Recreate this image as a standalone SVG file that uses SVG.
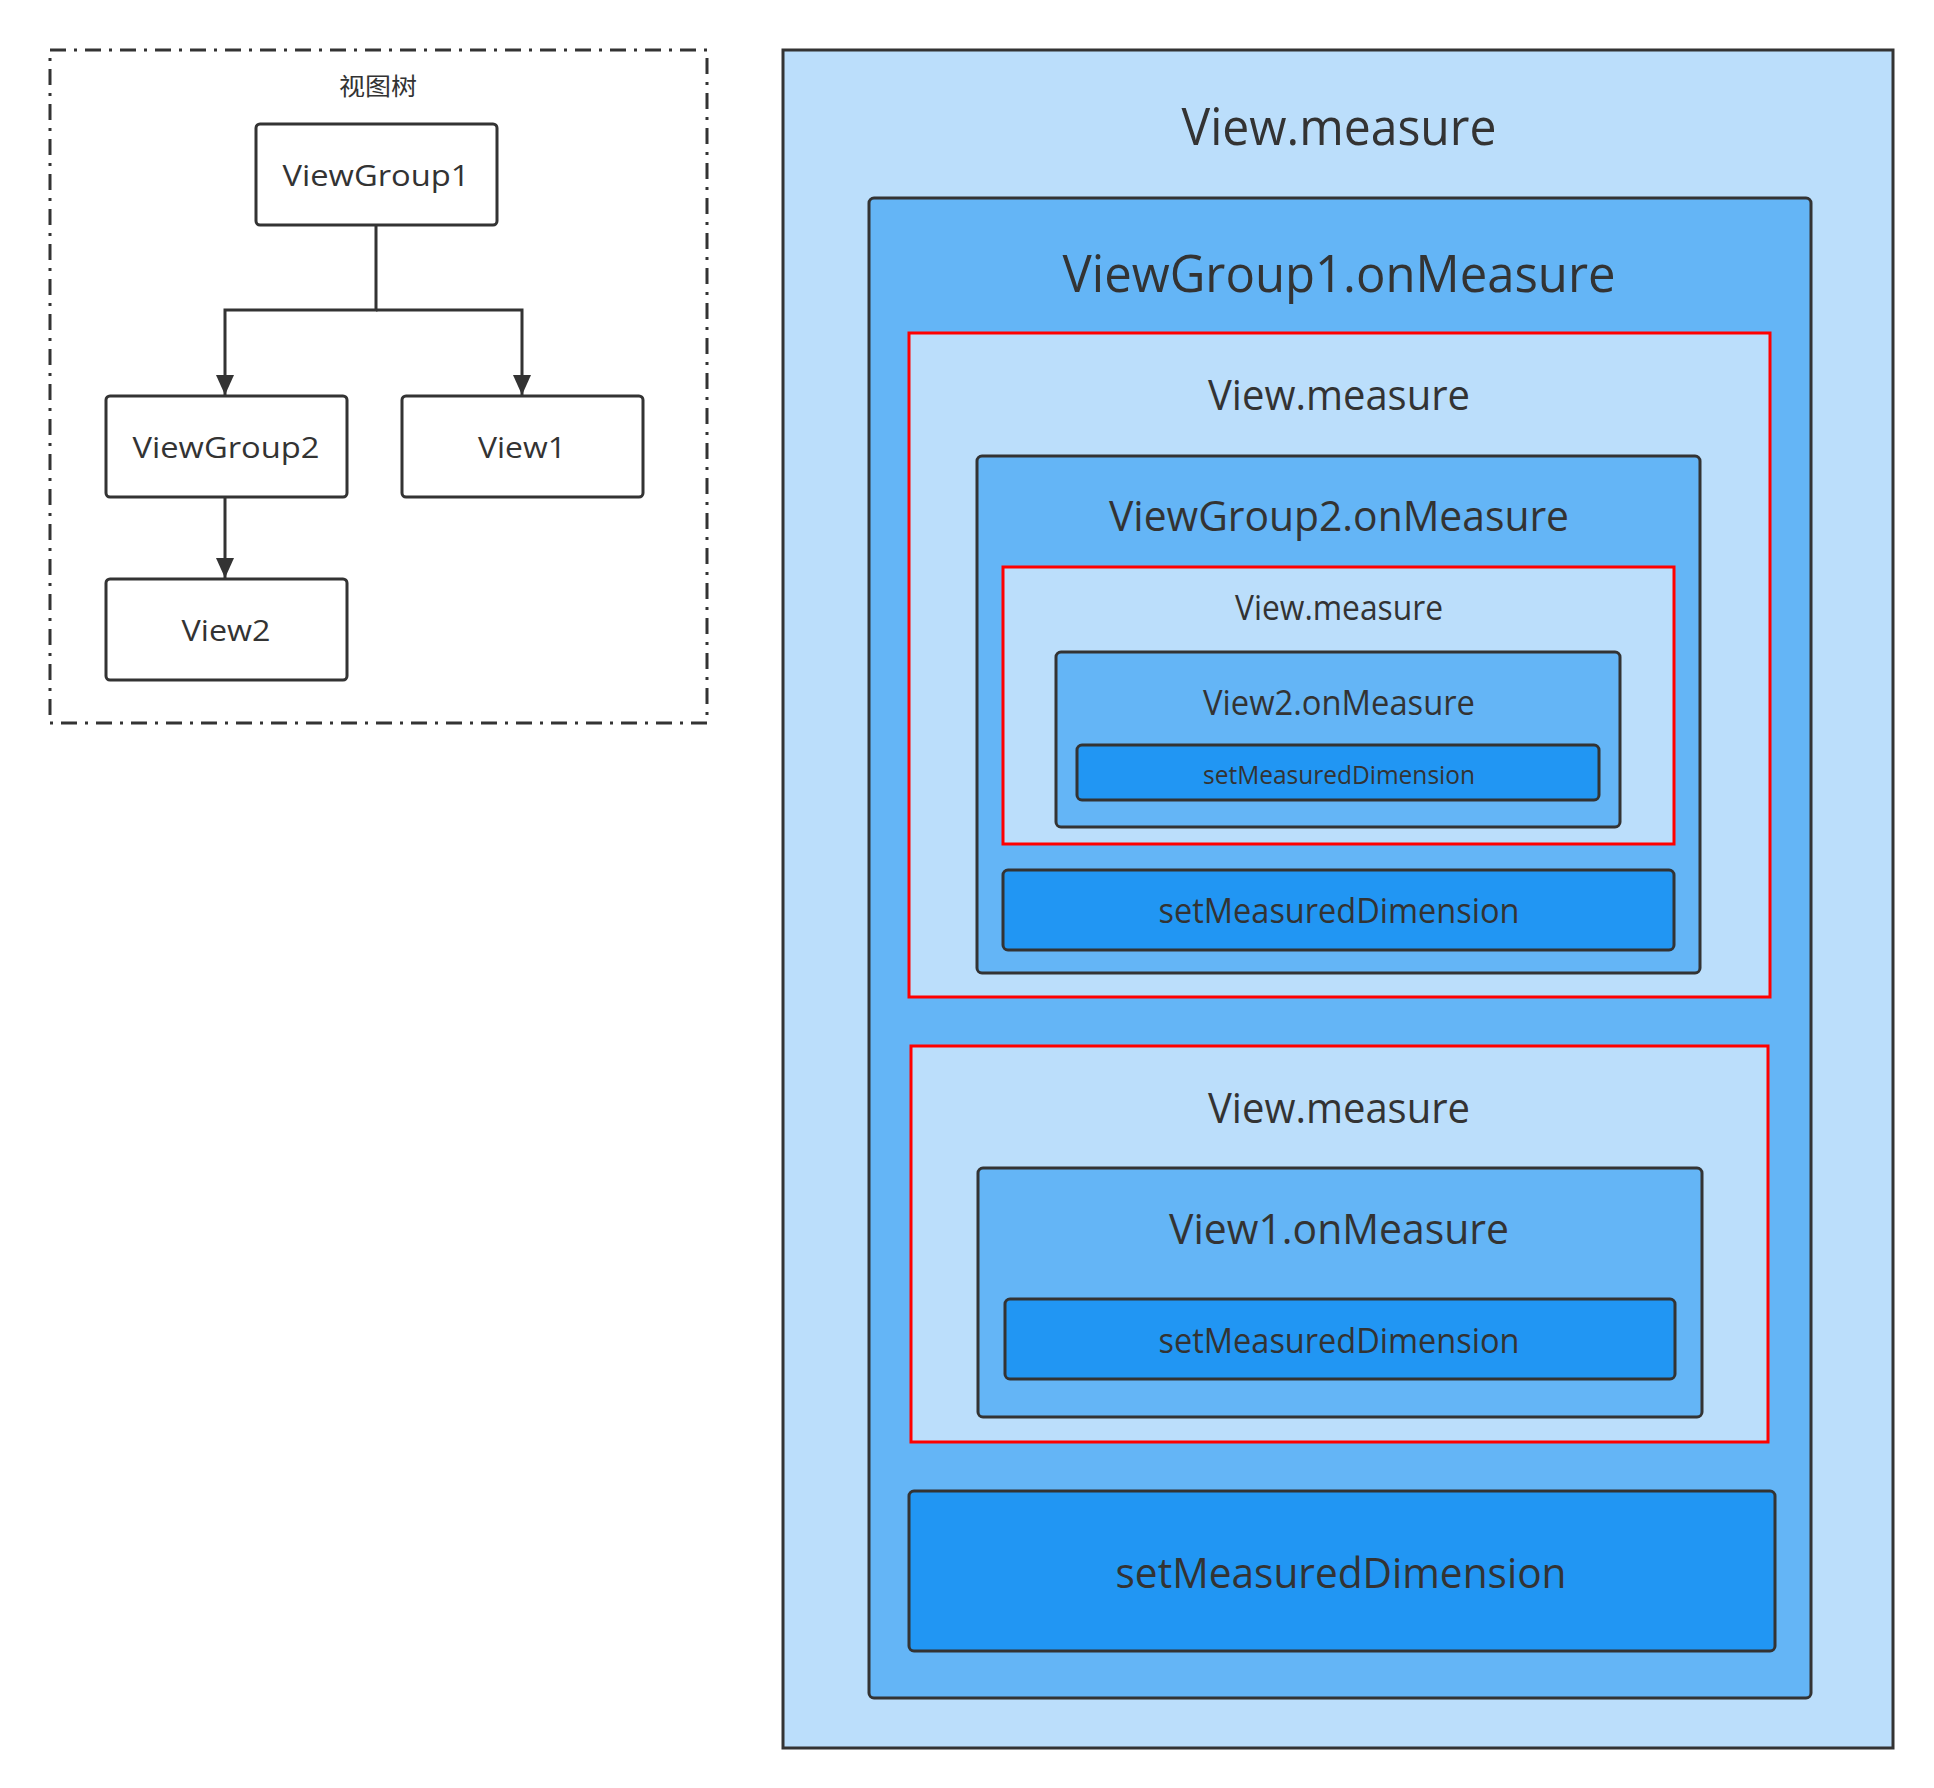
<svg xmlns="http://www.w3.org/2000/svg" width="1934" height="1788" viewBox="0 0 1934 1788">
<style>
text{font-family:"Open Sans","Noto Sans","Noto Sans CJK SC",sans-serif;fill:#333;text-anchor:middle;dominant-baseline:central}
.n{fill:#fff;stroke:#333;stroke-width:3}
.l{fill:#BBDEFB}
.m{fill:#64B5F6;stroke:#333;stroke-width:3}
.d{fill:#2196F3;stroke:#333;stroke-width:3}
.r{fill:#BBDEFB;stroke:#f00;stroke-width:3}
.c{fill:none;stroke:#333;stroke-width:3}
</style>
<defs><marker id="a" markerWidth="10" markerHeight="10" refX="9" refY="5" orient="auto" markerUnits="userSpaceOnUse" viewBox="0 0 10 10"><path d="M0,0L10,5L0,10z" fill="#333"/></marker>
<marker id="arr" viewBox="0 0 20 20" refX="20" refY="10" markerWidth="20" markerHeight="20" orient="auto" markerUnits="userSpaceOnUse"><path d="M0,1L20,10L0,19z" fill="#333"/></marker></defs>
<g id="tree"><rect x="50" y="50" width="657" height="673" fill="none" stroke="#333" stroke-width="3" stroke-dasharray="16,8,3,8"/><text x="378" y="85" font-size="24" textLength="78" lengthAdjust="spacingAndGlyphs">视图树</text></g>
<g id="connectors">
<path class="c" d="M376,224V310H225V395" marker-end="url(#arr)"/>
<path class="c" d="M376,310H522V395" marker-end="url(#arr)"/>
<path class="c" d="M225,496V578" marker-end="url(#arr)"/>
</g>
<g id="vg1"><rect class="n" x="256" y="124" width="241" height="101" rx="4"/><text x="376" y="174" font-size="30" textLength="187" lengthAdjust="spacingAndGlyphs">ViewGroup1</text></g>
<g id="vg2"><rect class="n" x="106" y="396" width="241" height="101" rx="4"/><text x="226" y="446" font-size="30" textLength="187" lengthAdjust="spacingAndGlyphs">ViewGroup2</text></g>
<g id="v1"><rect class="n" x="402" y="396" width="241" height="101" rx="4"/><text x="522" y="446" font-size="30" textLength="88" lengthAdjust="spacingAndGlyphs">View1</text></g>
<g id="v2"><rect class="n" x="106" y="579" width="241" height="101" rx="4"/><text x="226" y="629" font-size="30" textLength="89" lengthAdjust="spacingAndGlyphs">View2</text></g>
<g id="outer"><rect class="l" x="783" y="50" width="1110" height="1698" stroke="#333" stroke-width="3"/><text x="1339" y="124" font-size="52" textLength="315" lengthAdjust="spacingAndGlyphs">View.measure</text></g>
<g id="vg1m"><rect class="m" x="869" y="198" width="942" height="1500" rx="5"/><text x="1339" y="271" font-size="52" textLength="553" lengthAdjust="spacingAndGlyphs">ViewGroup1.onMeasure</text></g>
<g id="red1"><rect class="r" x="909" y="333" width="861" height="664"/><text x="1339" y="393" font-size="42" textLength="262" lengthAdjust="spacingAndGlyphs">View.measure</text></g>
<g id="vg2m"><rect class="m" x="977" y="456" width="723" height="517" rx="5"/><text x="1339" y="514" font-size="42" textLength="460" lengthAdjust="spacingAndGlyphs">ViewGroup2.onMeasure</text></g>
<g id="red2"><rect class="r" x="1003" y="567" width="671" height="277"/><text x="1339" y="607" font-size="34" textLength="208" lengthAdjust="spacingAndGlyphs">View.measure</text></g>
<g id="v2m"><rect class="m" x="1056" y="652" width="564" height="175" rx="5"/><text x="1339" y="702" font-size="34" textLength="272" lengthAdjust="spacingAndGlyphs">View2.onMeasure</text></g>
<g id="smd1"><rect class="d" x="1077" y="745" width="522" height="55" rx="5"/><text x="1339" y="774" font-size="26" textLength="272" lengthAdjust="spacingAndGlyphs">setMeasuredDimension</text></g>
<g id="smd2"><rect class="d" x="1003" y="870" width="671" height="80" rx="5"/><text x="1339" y="910" font-size="34" textLength="361" lengthAdjust="spacingAndGlyphs">setMeasuredDimension</text></g>
<g id="red3"><rect class="r" x="911" y="1046" width="857" height="396"/><text x="1339" y="1106" font-size="42" textLength="262" lengthAdjust="spacingAndGlyphs">View.measure</text></g>
<g id="v1m"><rect class="m" x="978" y="1168" width="724" height="249" rx="5"/><text x="1339" y="1227" font-size="42" textLength="340" lengthAdjust="spacingAndGlyphs">View1.onMeasure</text></g>
<g id="smd3"><rect class="d" x="1005" y="1299" width="670" height="80" rx="5"/><text x="1339" y="1340" font-size="34" textLength="361" lengthAdjust="spacingAndGlyphs">setMeasuredDimension</text></g>
<g id="smd4"><rect class="d" x="909" y="1491" width="866" height="160" rx="5"/><text x="1341" y="1571" font-size="42" textLength="451" lengthAdjust="spacingAndGlyphs">setMeasuredDimension</text></g>
</svg>
